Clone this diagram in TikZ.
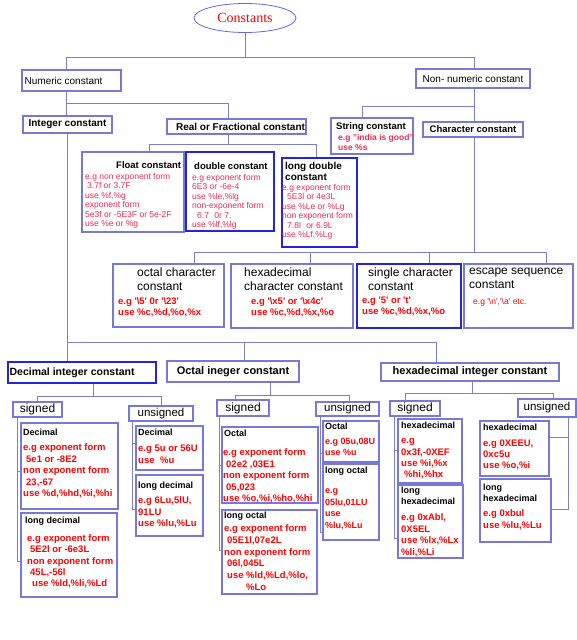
\documentclass[tikz,border=0pt]{standalone}
\usepackage{fontspec}
\setmainfont{Liberation Sans}
\newfontfamily\serifcf{Liberation Serif}
\usetikzlibrary{fit,shapes.geometric}
\definecolor{linec}{RGB}{125,125,210}
\definecolor{boxc}{RGB}{120,120,220}
\definecolor{darkb}{RGB}{35,35,225}
\definecolor{redt}{RGB}{255,0,0}
\definecolor{pinkt}{RGB}{240,40,80}
\begin{document}
\begin{tikzpicture}[x=1pt,y=-1pt,
 box/.style={draw=boxc, line width=1.1pt, inner sep=0pt},
 dbox/.style={draw=darkb, line width=1.1pt, inner sep=0pt},
 conn/.style={draw=linec, line width=0.9pt},
 hdr/.style={inner sep=0pt, font=\fontsize{10}{12}\selectfont},
 hdrb/.style={inner sep=0pt, font=\fontsize{9.5}{11}\selectfont\bfseries},
 big/.style={inner sep=0pt, font=\fontsize{10.5}{12}\selectfont\bfseries},
 bigb/.style={inner sep=0pt, font=\fontsize{11}{12}\selectfont\bfseries},
 sgn/.style={inner sep=0pt, font=\fontsize{12}{14}\selectfont},
 usgn/.style={inner sep=0pt, font=\fontsize{11.5}{14}\selectfont},
 ctl/.style={inner sep=0pt, align=left, font=\fontsize{12}{13.5}\selectfont},
 ttl/.style={inner sep=0pt, align=left, font=\fontsize{9}{11}\selectfont\bfseries},
 rsm/.style={inner sep=0pt, align=left, text=pinkt, font=\fontsize{8.5}{9.5}\selectfont},
 rsb/.style={inner sep=0pt, align=left, text=pinkt, font=\fontsize{8.5}{10}\selectfont\bfseries},
 rbd/.style={inner sep=0pt, align=left, text=redt, font=\fontsize{9.5}{11.5}\selectfont\bfseries},
]
\useasboundingbox (0,0) rectangle (577,640);

% ---------- top ----------
\node[ellipse, draw=darkb!70, line width=0.8pt, minimum width=102pt, minimum height=29pt, inner sep=0pt, text=redt, font=\serifcf\fontsize{14}{16}\selectfont] (const) at (245,18) {Constants};

\node[box, fit={(22,70)(121,91)}] (num) {};
\node[hdr, anchor=west] (numT) at ([xshift=3pt]num.west) {Numeric constant};
\node[box, fit={(416,69)(530,88)}] (nonnum) {};
\node[hdr] (nonnumT) at (nonnum.center) {Non- numeric constant};

\draw[conn] (const.south) -- (245,57);
\draw[conn] (num.north -| 66,0) -- (66,57) -- (474,57) -- (nonnum.north -| 474,0);

% ---------- level 2 ----------
\node[box, fit={(23,116)(112,133)}] (int) {};
\node[hdrb, font=\fontsize{10}{11}\selectfont\bfseries] (intT) at (int.center) {Integer constant};
\node[box, fit={(167,119)(306,134)}] (real) {};
\node[hdrb, font=\fontsize{10}{11}\selectfont\bfseries] (realT) at ([xshift=4pt]real.center) {Real or Fractional constant};
\node[box, fit={(331,118)(413,154)}] (str) {};
\node[hdrb, anchor=north west] (strT) at (336,122) {String constant};
\node[rsb, anchor=north west] (strB) at (338,134) {e.g "india is good"\\use \%s};
\node[box, fit={(423,122)(523,137)}] (chr) {};
\node[hdrb] (chrT) at (chr.center) {Character constant};

\draw[conn] (num.south -| 66,0) -- (int.north -| 66,0);
\draw[conn] (66,103) -- (228,103) -- (real.north -| 228,0);
\draw[conn] (nonnum.south -| 474,0) -- (chr.north -| 474,0);
\draw[conn] (474,106) -- (362,106) -- (str.north -| 362,0);

% ---------- real constants ----------
\node[box, fit={(82,152)(184,232)}] (float) {};
\node[hdrb, anchor=north west] (floatT) at (116,161) {Float constant};
\node[rsm, anchor=north west] (floatB) at (85,173) {e.g non exponent form\\\hspace*{2pt}3.7f or 3.7F\\use \%f,\%g\\exponent form\\5e3f or -5E3F or 5e-2F\\use \%e or \%g};

\node[dbox, fit={(186,152)(274,231)}] (dbl) {};
\node[hdrb, anchor=north west] (dblT) at (194,162) {double constant};
\node[rsm, anchor=north west] (dblB) at (192,174) {e.g exponent form\\6E3 or -6e-4\\use \%le,\%lg\\non-exponent form\\\hspace*{5pt}6.7\hspace{3pt} 0r 7.\\use \%lf,\%lg};

\node[dbox, fit={(282,158)(357,247)}] (ldbl) {};
\node[inner sep=0pt, align=left, font=\fontsize{10}{11}\selectfont\bfseries, anchor=north west] (ldblT) at (285,162) {long double\\constant};
\node[rsm, anchor=north west] (ldblB) at (282,184) {e.g exponent form\\\hspace*{5pt}5E3l or 4e3L\\use \%Le or \%Lg\\non exponent form\\\hspace*{5pt}7.8l\hspace{3pt} or 6.9L\\use \%Lf,\%Lg};

\draw[conn] (real.south -| 228,0) -- (228,144);
\draw[conn] (float.north -| 149,0) -- (149,144) -- (316,144) -- (ldbl.north -| 316,0);

% ---------- character constants ----------
\node[box, fit={(113,264)(224,327)}] (octc) {};
\node[ctl, anchor=north west] (octcT) at (137,268) {octal character\\constant};
\node[rbd, anchor=north west, font=\fontsize{9.5}{11}\selectfont\bfseries] (octcB) at (118,297) {e.g \textquotesingle\textbackslash 5\textquotesingle{} 0r \textquotesingle\textbackslash 23\textquotesingle\\use \%c,\%d,\%o,\%x};

\node[box, fit={(231,264)(353,328)}] (hexc) {};
\node[ctl, anchor=north west] (hexcT) at (244,268) {hexadecimal\\character constant};
\node[rbd, anchor=north west, font=\fontsize{9.5}{11}\selectfont\bfseries] (hexcB) at (251,297) {e.g \textquotesingle\textbackslash x5\textquotesingle{} or \textquotesingle\textbackslash x4c\textquotesingle\\use \%c,\%d,\%x,\%o};

\node[dbox, fit={(357,264)(461,328)}] (sglc) {};
\node[ctl, anchor=north west] (sglcT) at (368,268) {single character\\constant};
\node[rbd, anchor=north west, font=\fontsize{9.5}{11}\selectfont\bfseries] (sglcB) at (362,297) {e.g \textquotesingle 5\textquotesingle{} or \textquotesingle t\textquotesingle\\use \%c,\%d,\%x,\%o};

\node[box, fit={(464,264)(573,328)}] (escc) {};
\node[ctl, anchor=north west] (esccT) at (469,268) {escape sequence\\constant};
\node[rsm, text=redt, anchor=north west] (esccB) at (473,298) {e.g \textquotesingle\textbackslash n\textquotesingle,\textquotesingle\textbackslash a\textquotesingle{} etc.};

\draw[conn] (chr.south -| 474,0) -- (474,252);
\draw[conn] (octc.north -| 194,0) -- (194,252) -- (546,252) -- (escc.north -| 546,0);
\draw[conn] (310,252) -- (hexc.north -| 310,0);
\draw[conn] (429,252) -- (sglc.north -| 429,0);

% ---------- integer constants ----------
\node[dbox, fit={(8,362)(156,383)}] (decint) {};
\node[big, anchor=west] (decintT) at ([xshift=2pt]decint.west) {Decimal integer constant};
\node[box, fit={(167,361)(299,382)}] (octint) {};
\node[bigb] (octintT) at (octint.center) {Octal ineger constant};
\node[box, fit={(381,363)(559,381)}] (hexint) {};
\node[bigb] (hexintT) at (hexint.center) {hexadecimal integer constant};

\draw[conn] (int.south -| 67,0) -- (decint.north -| 67,0);
\draw[conn] (67,342) -- (436,342) -- (hexint.north -| 436,0);
\draw[conn] (244,342) -- (octint.north -| 244,0);

% ---------- decimal subtree ----------
\node[box, fit={(13,402)(62,417)}] (dsigned) {};
\node[sgn] (dsignedT) at (dsigned.center) {signed};
\node[box, fit={(129,406)(193,421)}] (dunsigned) {};
\node[usgn] (dunsignedT) at (dunsigned.center) {unsigned};

\node[box, fit={(21,423)(118,509)}] (decbox) {};
\node[ttl, anchor=north west] (decboxT) at (23,429) {Decimal};
\node[rbd, anchor=north west] (decboxB) at (23,443.5) {e.g exponent form\\\hspace*{3pt}5e1 or -8E2\\non exponent form\\\hspace*{3pt}23,-67\\use \%d,\%hd,\%i,\%hi};

\node[box, fit={(21,513)(117,597)}] (longdec) {};
\node[ttl, anchor=north west] (longdecT) at (25,517) {long decimal};
\node[rbd, anchor=north west, font=\fontsize{9.5}{11.3}\selectfont\bfseries] (longdecB) at (27,534.5) {e.g exponent form\\\hspace*{3pt}5E2l or -6e3L\\non exponent form\\\hspace*{3pt}45L,-56l\\\hspace*{5pt}use \%ld,\%li,\%Ld};

\node[box, fit={(136,426)(203,470)}] (udec) {};
\node[ttl, anchor=north west] (udecT) at (138,429) {Decimal};
\node[rbd, anchor=north west, font=\fontsize{9.5}{12}\selectfont\bfseries] (udecB) at (138,444.5) {e.g 5u or 56U\\use\hspace{3pt} \%u};

\node[box, fit={(136,475)(203,536)}] (ulongdec) {};
\node[ttl, anchor=north west] (ulongdecT) at (138,482) {long decimal};
\node[rbd, anchor=north west] (ulongdecB) at (138,496.5) {e.g 6Lu,5lU,\\91LU\\use \%lu,\%Lu};

\draw[conn] (decint.south -| 93,0) -- (93,396);
\draw[conn] (dsigned.north) -- (dsigned.north |- 0,396) -- (dunsigned.north |- 0,396) -- (dunsigned.north);
\draw[conn] (dsigned.south -| 17,0) -- (17,561) -- (longdec.west |- 0,561);
\draw[conn] (17,471) -- (decbox.west |- 0,471);
\draw[conn] (dunsigned.south -| 132,0) -- (132,509) -- (ulongdec.west |- 0,509);
\draw[conn] (132,443) -- (udec.west |- 0,443);

% ---------- octal subtree ----------
\node[box, fit={(217,400)(269,416)}] (osigned) {};
\node[sgn] (osignedT) at (osigned.center) {signed};
\node[box, fit={(316,402)(379,416)}] (ounsigned) {};
\node[usgn] (ounsignedT) at (ounsigned.center) {unsigned};

\node[box, fit={(222,427)(318,503)}] (octbox) {};
\node[ttl, anchor=north west] (octboxT) at (224,430) {Octal};
\node[rbd, anchor=north west] (octboxB) at (223,448.5) {e.g exponent form\\\hspace*{3pt}02e2 ,03E1\\non exponent form\\\hspace*{3pt}05,023\\use \%o,\%i,\%ho,\%hi};

\node[box, fit={(222,510)(317,594)}] (longoct) {};
\node[ttl, anchor=north west] (longoctT) at (224,512) {long octal};
\node[rbd, anchor=north west, font=\fontsize{9.5}{11.8}\selectfont\bfseries] (longoctB) at (224,524.5) {e.g exponent form\\\hspace*{3pt}05E1l,07e2L\\non exponent form\\\hspace*{3pt}06l,045L\\\hspace*{3pt}use \%ld,\%Ld,\%lo,\\\hspace*{22pt}\%Lo};

\node[box, fit={(323,421)(379,462)}] (uoct) {};
\node[ttl, anchor=north west] (uoctT) at (325,423) {Octal};
\node[rbd, anchor=north west, font=\fontsize{9}{10.5}\selectfont\bfseries] (uoctB) at (325,438.5) {e.g 05u,08U\\use \%u};

\node[box, fit={(323,464)(379,540)}] (ulongoct) {};
\node[ttl, anchor=north west] (ulongoctT) at (325,467) {long octal};
\node[rbd, anchor=north west, font=\fontsize{9}{11.5}\selectfont\bfseries] (ulongoctB) at (325,488.5) {e.g\\05lu,01LU\\use\\\%lu,\%Lu};

\draw[conn] (octint.south -| 270,0) -- (270,395);
\draw[conn] (osigned.north -| 235,0) -- (235,395) -- (349,395) -- (ounsigned.north -| 349,0);
\draw[conn] (osigned.south -| 219,0) -- (219,550) -- (longoct.west |- 0,550);
\draw[conn] (219,465) -- (octbox.west |- 0,465);
\draw[conn] (ounsigned.south -| 320,0) -- (320,532) -- (ulongoct.west |- 0,532);
\draw[conn] (320,453) -- (uoct.west |- 0,453);

% ---------- hexadecimal subtree ----------
\node[box, fit={(390,401)(440,416)}] (hsigned) {};
\node[sgn] (hsignedT) at (hsigned.center) {signed};
\node[box, fit={(518,399)(576,417)}] (hunsigned) {};
\node[usgn] (hunsignedT) at (hunsigned.center) {unsigned};

\node[box, fit={(398,419)(462,483)}] (hexbox) {};
\node[ttl, anchor=north west] (hexboxT) at (401,422) {hexadecimal};
\node[rbd, anchor=north west, font=\fontsize{9.5}{11.3}\selectfont\bfseries] (hexboxB) at (401,438.5) {e.g\\0x3f,-0XEF\\use \%i,\%x\\\hspace*{3pt}\%hi,\%hx};

\node[box, fit={(398,485)(463,558)}] (longhex) {};
\node[ttl, anchor=north west] (longhexT) at (401,487) {long\\hexadecimal};
\node[rbd, anchor=north west, font=\fontsize{9.5}{11.7}\selectfont\bfseries] (longhexB) at (401,513.5) {e.g 0xAbl,\\0X5EL\\use \%lx,\%Lx\\\%li,\%Li};

\node[box, fit={(480,421)(549,476)}] (uhex) {};
\node[ttl, anchor=north west] (uhexT) at (483,424) {hexadecimal};
\node[rbd, anchor=north west, font=\fontsize{9.5}{11}\selectfont\bfseries] (uhexB) at (483,439.5) {e.g 0XEEU,\\0xc5u\\use \%o,\%i};

\node[box, fit={(480,479)(551,542)}] (ulonghex) {};
\node[ttl, anchor=north west] (ulonghexT) at (483,484) {long\\hexadecimal};
\node[rbd, anchor=north west, font=\fontsize{9.5}{12}\selectfont\bfseries] (ulonghexB) at (483,509.5) {e.g 0xbul\\use \%lu,\%Lu};

\draw[conn] (hexint.south -| 472,0) -- (472,393);
\draw[conn] (hsigned.north -| 405,0) -- (405,393) -- (553,393) -- (hunsigned.north -| 553,0);
\draw[conn] (hsigned.south -| 394,0) -- (394,538) -- (longhex.west |- 0,538);
\draw[conn] (394,450) -- (hexbox.west |- 0,450);
\draw[conn] (hunsigned.south -| 568,0) -- (568,509) -- (ulonghex.east |- 0,509);
\draw[conn] (568,437) -- (uhex.east |- 0,437);

\end{tikzpicture}
\end{document}
